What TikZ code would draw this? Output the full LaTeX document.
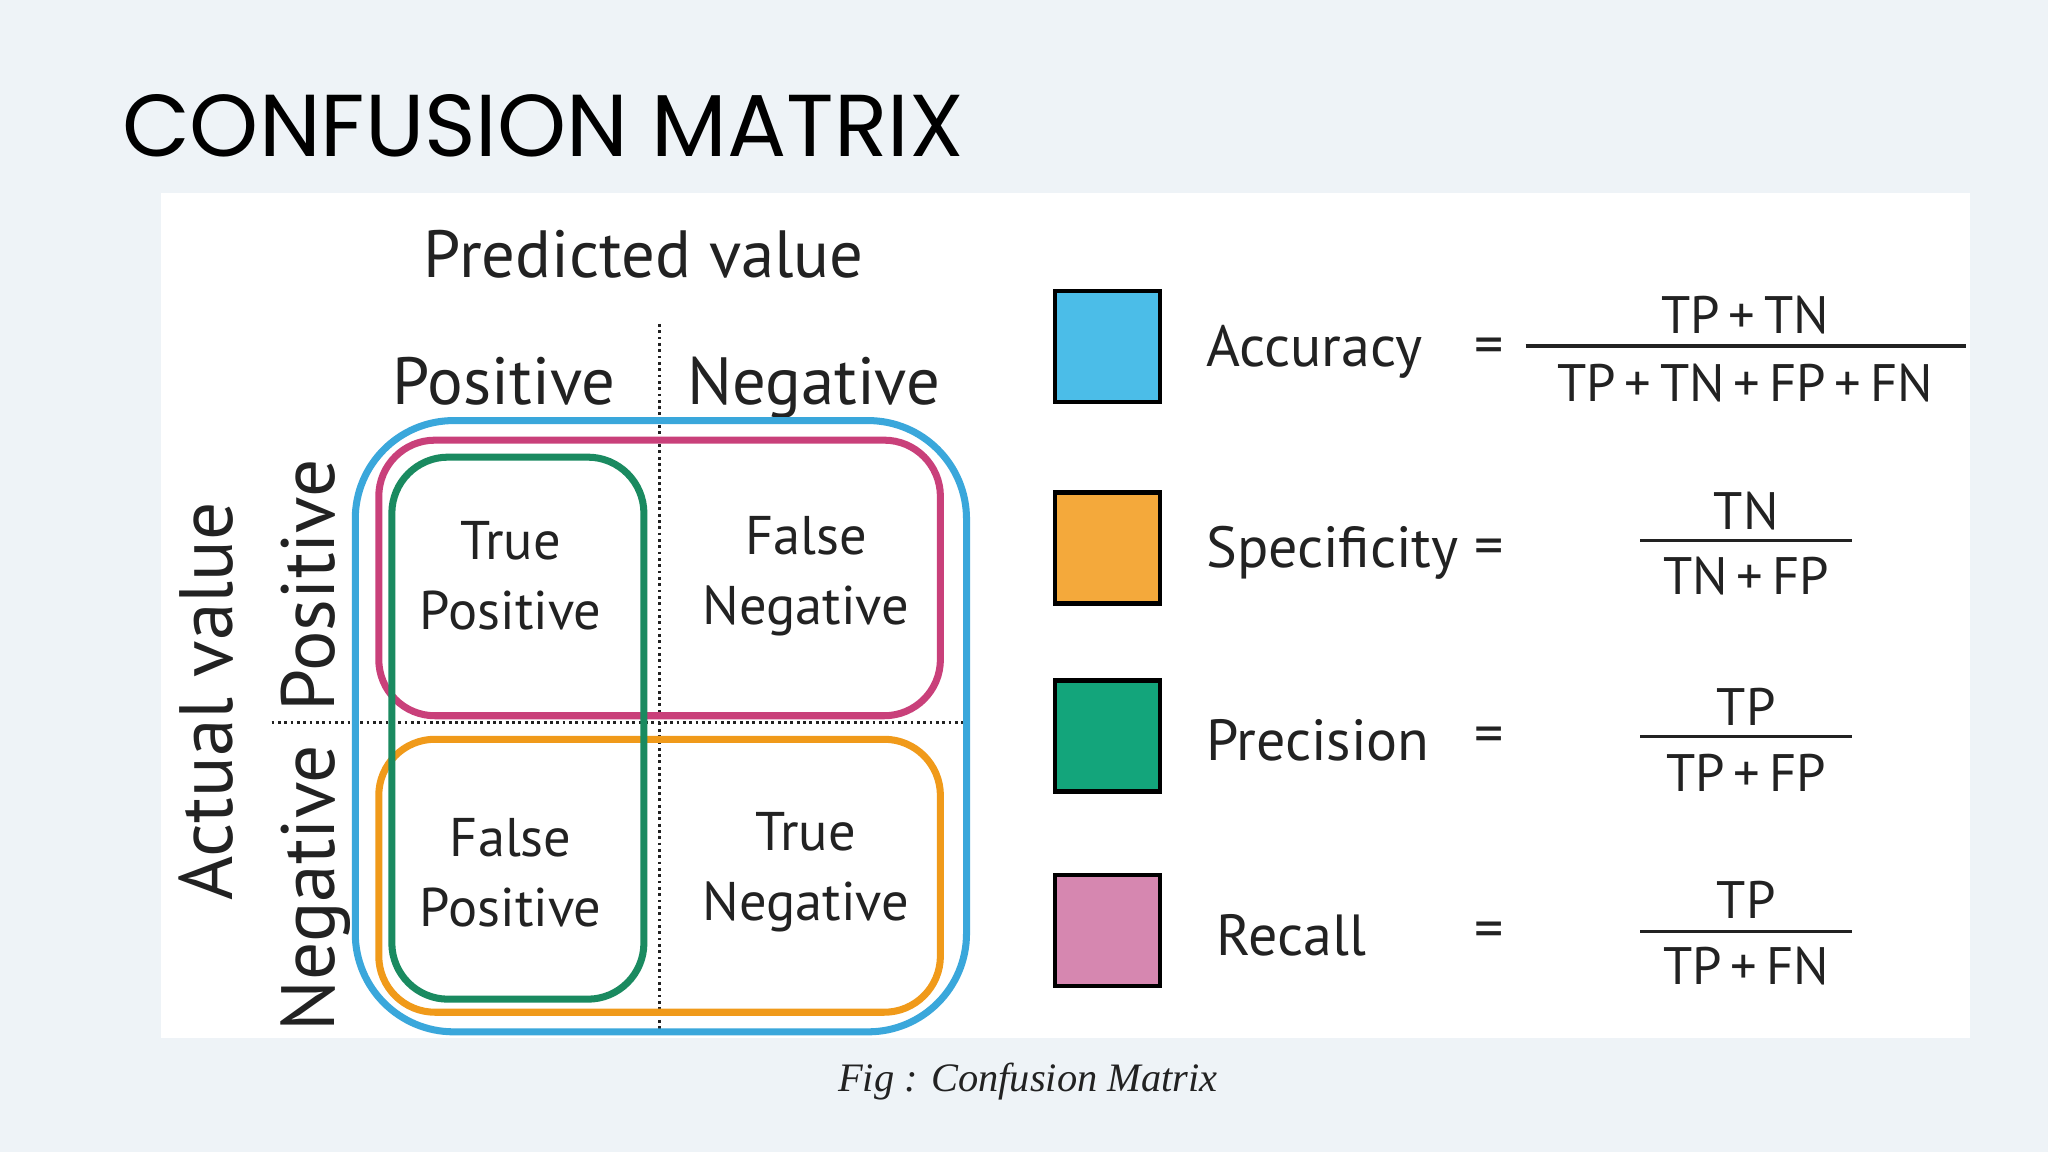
\documentclass[tikz,border=0pt]{standalone}
\usepackage{fontspec}
\setmainfont{PT Sans}
\newfontfamily\titlefont{Poppins}
\newfontfamily\capfont{Liberation Serif}
\definecolor{bgc}{HTML}{EEF3F7}
\definecolor{bblue}{HTML}{3AA7DB}
\definecolor{bpink}{HTML}{C9407A}
\definecolor{borange}{HTML}{F09A1A}
\definecolor{bgreen}{HTML}{1A8A60}
\definecolor{lblue}{HTML}{4BBDE8}
\definecolor{lorange}{HTML}{F4A93B}
\definecolor{lgreen}{HTML}{13A57B}
\definecolor{lpink}{HTML}{D687B0}
\definecolor{txt}{HTML}{222222}
\tikzset{
 lbl/.style={text=txt,font=\fontsize{19}{23}\selectfont},
 side/.style={text=txt,font=\fontsize{21.5}{25}\selectfont},
 leg/.style={text=txt,font=\fontsize{16.5}{20}\selectfont},
 cell/.style={text=txt,font=\fontsize{15.5}{20}\selectfont,align=center},
 sq/.style={draw=black,line width=1.2pt},
 frac/.style={text=txt,font=\fontsize{15}{18}\selectfont},
 fl/.style={line width=1pt,draw=txt}
}
\newcommand{\pl}{\,+\,}
\begin{document}
\begin{tikzpicture}[x=0.013061cm,y=-0.013061cm]
\fill[bgc] (0,0) rectangle (1568,882);
\useasboundingbox (0,0) rectangle (1568,882);
\fill[white] (123,148) rectangle (1508,795);
\node[anchor=west,font=\titlefont\fontsize{25}{30}\selectfont] (title) at (84,96) {CONFUSION MATRIX};
\node[lbl] (pv) at (493,195) {Predicted value};
\node[lbl,anchor=base] (pp) at (386,310) {Positive};
\node[lbl,anchor=base] (pn) at (623,310) {Negative};
\node[side,rotate=90] (av) at (158,537) {Actual value};
\node[side,rotate=90,anchor=base] (ap) at (256,448) {Positive};
\node[side,rotate=90,anchor=base] (an) at (256,680) {Negative};
\coordinate (vt) at (505,248); \coordinate (vb) at (505,790);
\coordinate (hl) at (208,553); \coordinate (hr) at (740,553);
\draw[densely dotted,txt,line width=0.8pt] (vt) -- (vb);
\draw[densely dotted,txt,line width=0.8pt] (hl) -- (hr);
\draw[bblue,line width=2pt,rounded corners=28pt] (272,322) rectangle (740,790);
\draw[bpink,line width=2pt,rounded corners=16pt] (290,337) rectangle (720,548);
\draw[borange,line width=2pt,rounded corners=16pt] (290,566) rectangle (720,775);
\draw[bgreen,line width=2pt,rounded corners=16pt] (300,350) rectangle (493,765);
\node[cell] (tp) at (391,441) {True\\Positive};
\node[cell] (fn) at (617,441) {False\\Negative};
\node[cell] (fp) at (391,668) {False\\Positive};
\node[cell] (tn) at (617,668) {True\\Negative};
\foreach \y/\c/\t/\xx [count=\i] in {223/lblue/Accuracy/914,377/lorange/Specificity/914,521/lgreen/Precision/914,670/lpink/Recall/922}{
 \draw[sq,fill=\c] (808,\y) rectangle (888,\y+85);
 \node[leg,anchor=west] (l\i) at (\xx,\y+46) {\t};
 \node[leg] (e\i) at (1140,\y+46) {=};
}
\node[frac] (n1) at (1336,241) {TP\pl TN};
\node[frac] (d1) at (1336,293) {TP\pl TN\pl FP\pl FN};
\draw[fl] (1168,265) -- (1505,265);
\node[frac] (n2) at (1337,391) {TN};
\node[frac] (d2) at (1337,441) {TN\pl FP};
\draw[fl] (1256,414) -- (1418,414);
\node[frac] (n3) at (1337,541) {TP};
\node[frac] (d3) at (1337,592) {TP\pl FP};
\draw[fl] (1256,564) -- (1418,564);
\node[frac] (n4) at (1337,689) {TP};
\node[frac] (d4) at (1337,740) {TP\pl FN};
\draw[fl] (1256,713) -- (1418,713);
\node[font=\capfont\itshape\fontsize{11.5}{14}\selectfont,text=txt] (cap) at (787,828) {Fig : Confusion Matrix};
\end{tikzpicture}
\end{document}
